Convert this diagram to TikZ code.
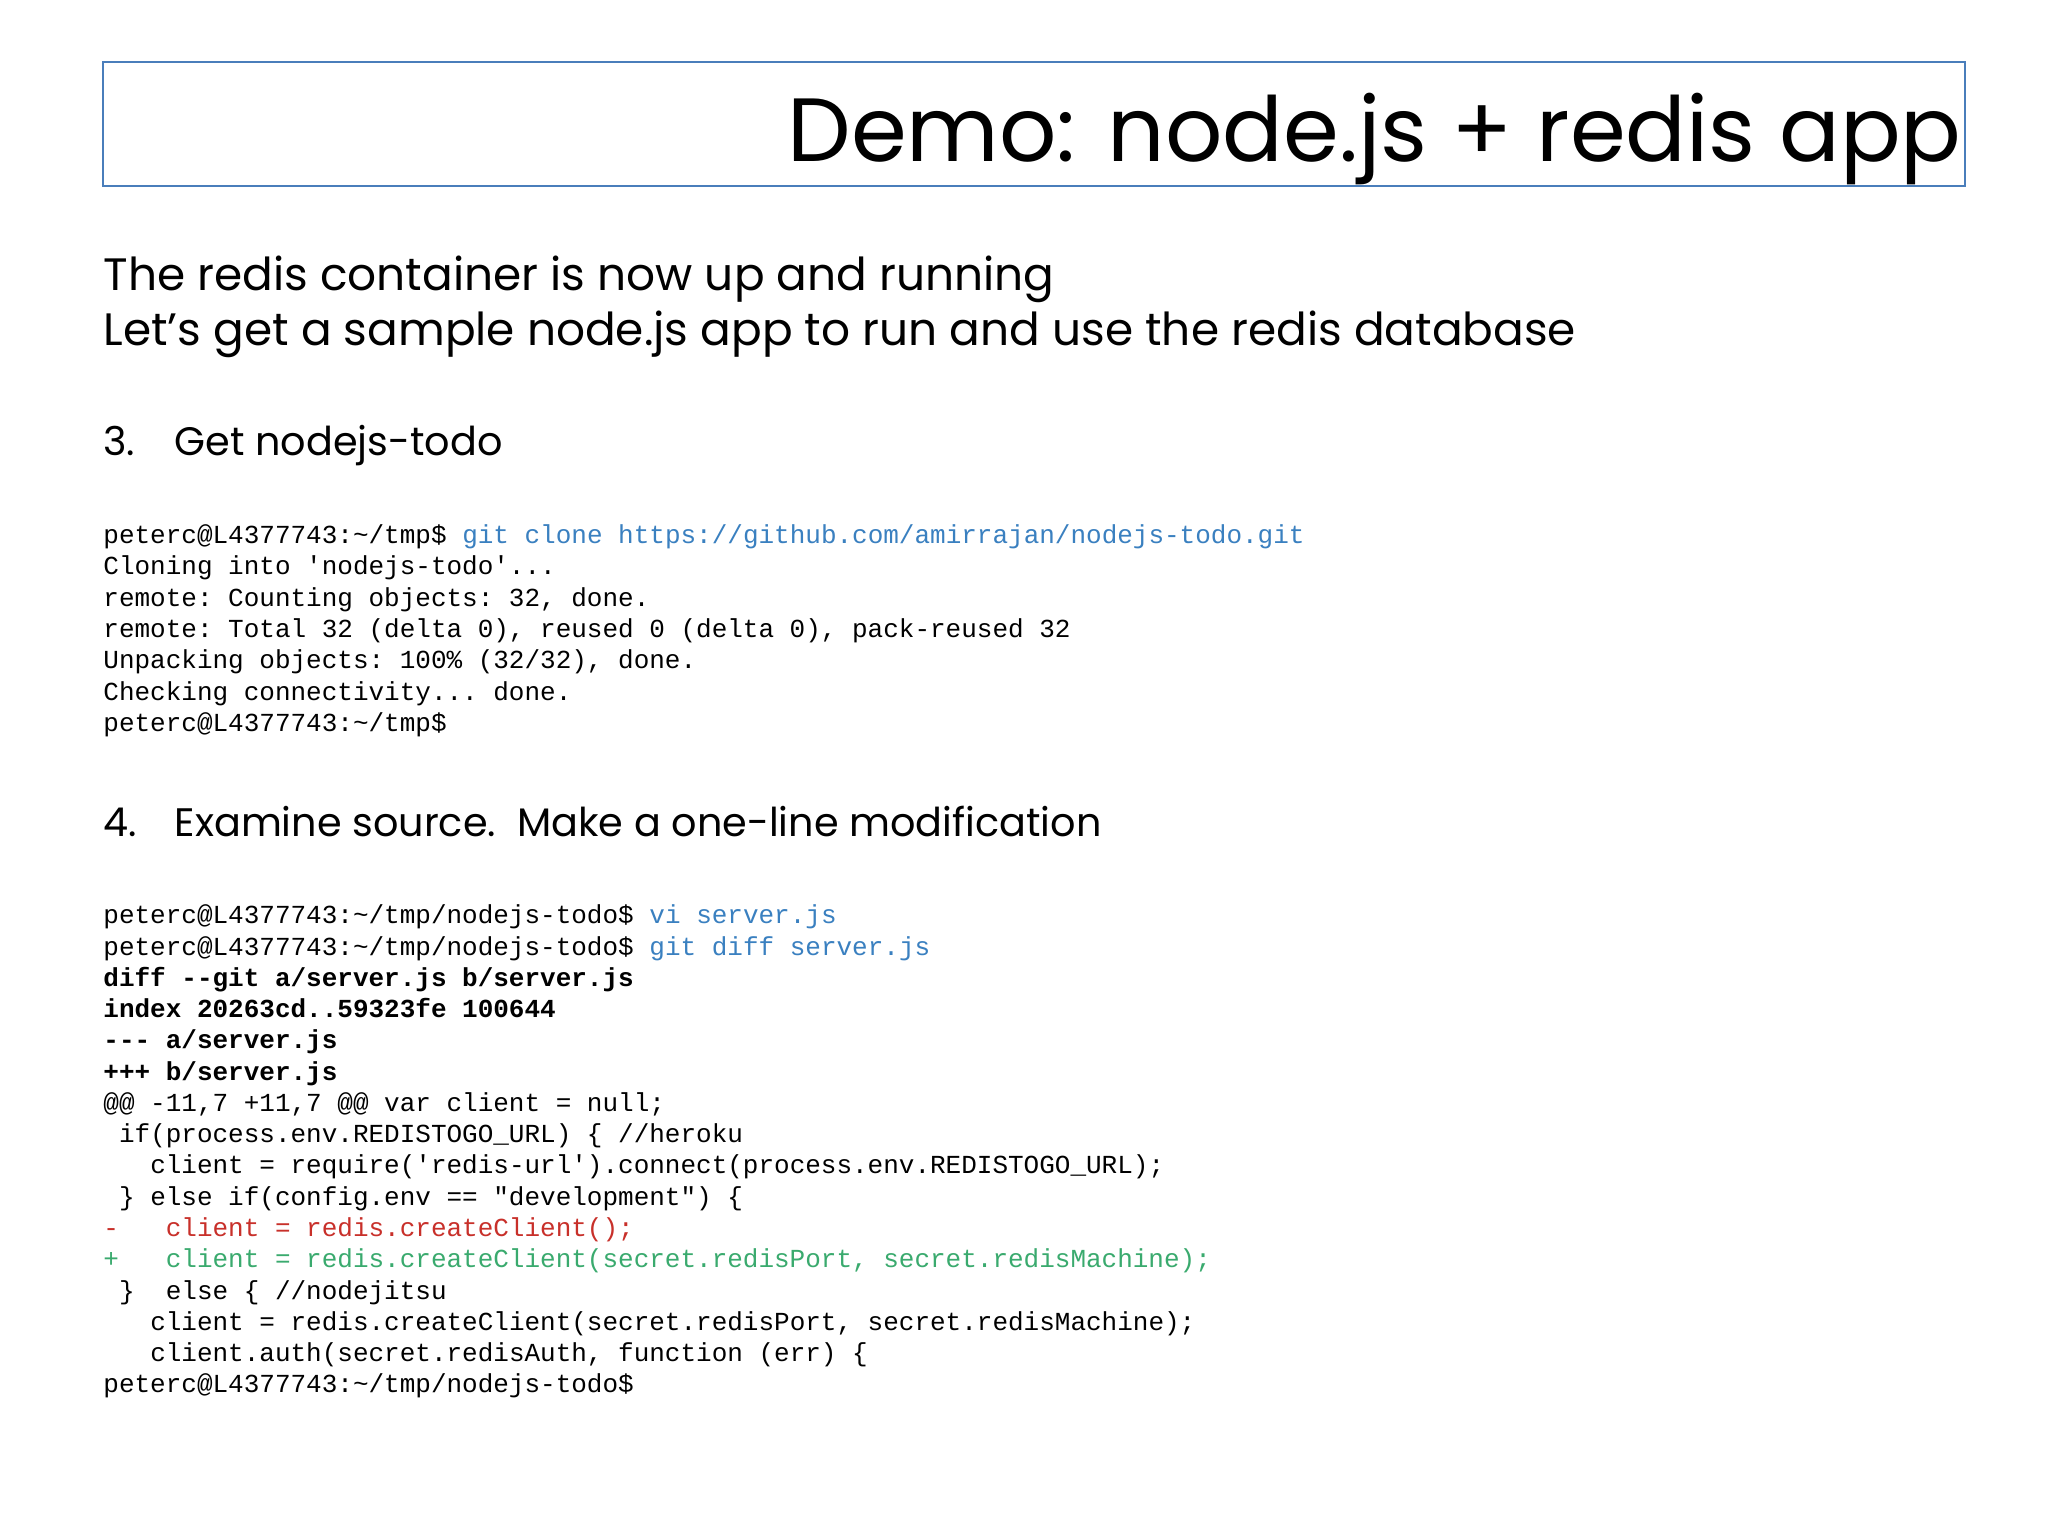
\documentclass[tikz,border=0pt]{standalone}
\usepackage{fontspec}
\setmainfont{Poppins}[Scale=0.93]
\setmonofont{Liberation Mono}
\definecolor{cblue}{HTML}{3A80C0}
\definecolor{cred}{HTML}{C8302A}
\definecolor{cgreen}{HTML}{3AAA6E}
\definecolor{frame}{HTML}{4A7EBB}
\begin{document}
\begin{tikzpicture}[x=0.5pt,y=-0.5pt,
  body/.style={anchor=base west,inner sep=0,font=\fontsize{18.5}{22}\selectfont},
  head/.style={anchor=base west,inner sep=0,font=\fontsize{16.2}{20}\selectfont},
  code/.style={anchor=base west,inner sep=0,font=\ttfamily\fontsize{9.85}{12}\selectfont}]
\useasboundingbox (0,0) rectangle (1552,1164);
\fill[white] (0,0) rectangle (1552,1164);
\draw[frame,line width=0.8pt] (78,47) rectangle (1489,141);
\node[anchor=base east,inner sep=0,font=\fontsize{36.6}{44}\selectfont] (title) at (1487,122) {Demo: node.js + redis app};
\node[body] (l1) at (78,220) {The redis container is now up and running};
\node[body] (l2) at (78,262) {Let’s get a sample node.js app to run and use the redis database};
\node[head] (h3n) at (78,345) {3.};
\node[head] (h3) at (132,345) {Get nodejs-todo};
\node[head] (h4n) at (78,634) {4.};
\node[head] (h4) at (132,634) {Examine source.\ \ Make a one-line modification};
\node[code] (a1) at (78,412) {peterc@L4377743:\textasciitilde/tmp\$ \textcolor{cblue}{git clone https://github.com/amirrajan/nodejs-todo.git}};
\node[code] (a2) at (78,435.7) {Cloning into 'nodejs-todo'...};
\node[code] (a3) at (78,459.4) {remote: Counting objects: 32, done.};
\node[code] (a4) at (78,483.1) {remote: Total 32 (delta 0), reused 0 (delta 0), pack-reused 32};
\node[code] (a5) at (78,506.8) {Unpacking objects: 100\% (32/32), done.};
\node[code] (a6) at (78,530.5) {Checking connectivity... done.};
\node[code] (a7) at (78,554.2) {peterc@L4377743:\textasciitilde/tmp\$};
\node[code] (b1) at (78,700) {peterc@L4377743:\textasciitilde/tmp/nodejs-todo\$ \textcolor{cblue}{vi server.js}};
\node[code] (b2) at (78,723.7) {peterc@L4377743:\textasciitilde/tmp/nodejs-todo\$ \textcolor{cblue}{git diff server.js}};
\node[code,font=\ttfamily\bfseries\fontsize{9.85}{12}\selectfont] (b3) at (78,747.4) {diff --git a/server.js b/server.js};
\node[code,font=\ttfamily\bfseries\fontsize{9.85}{12}\selectfont] (b4) at (78,771.1) {index 20263cd..59323fe 100644};
\node[code,font=\ttfamily\bfseries\fontsize{9.85}{12}\selectfont] (b5) at (78,794.8) {--- a/server.js};
\node[code,font=\ttfamily\bfseries\fontsize{9.85}{12}\selectfont] (b6) at (78,818.5) {+++ b/server.js};
\node[code] (b7) at (78,842.2) {@@ -11,7 +11,7 @@ var client = null;};
\node[code] (b8) at (78,865.9) {\ if(process.env.REDISTOGO\_URL) \{ //heroku};
\node[code] (b9) at (78,889.6) {\ \ \ client = require('redis-url').connect(process.env.REDISTOGO\_URL);};
\node[code] (b10) at (78,913.3) {\ \} else if(config.env == "development") \{};
\node[code,text=cred] (b11) at (78,937) {-\ \ \ client = redis.createClient();};
\node[code,text=cgreen] (b12) at (78,960.7) {+\ \ \ client = redis.createClient(secret.redisPort, secret.redisMachine);};
\node[code] (b13) at (78,984.4) {\ \}\ \ else \{ //nodejitsu};
\node[code] (b14) at (78,1008.1) {\ \ \ client = redis.createClient(secret.redisPort, secret.redisMachine);};
\node[code] (b15) at (78,1031.8) {\ \ \ client.auth(secret.redisAuth, function (err) \{};
\node[code] (b16) at (78,1055.5) {peterc@L4377743:\textasciitilde/tmp/nodejs-todo\$};
\end{tikzpicture}
\end{document}
